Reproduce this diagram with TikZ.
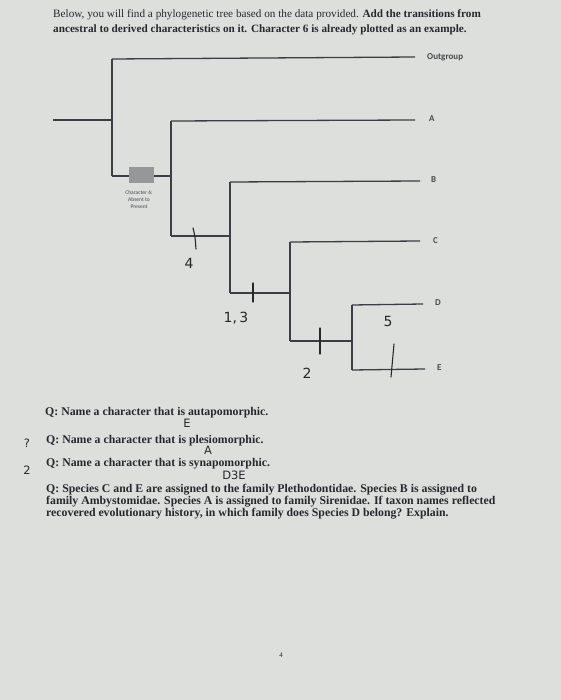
\documentclass[tikz,border=0pt]{standalone}
\usepackage{fontspec}
\setmainfont{Liberation Serif}
\newfontfamily\labelfont{Carlito}
\newfontfamily\handfont{DejaVu Sans}
\definecolor{bgcol}{RGB}{221,223,221}
\definecolor{treecol}{RGB}{58,62,70}
\definecolor{inkcol}{RGB}{38,40,46}
\definecolor{boxcol}{RGB}{150,151,153}
\definecolor{lblcol}{RGB}{70,72,78}
\begin{document}
\begin{tikzpicture}[x=1pt,y=-1pt,
  branch/.style={draw=treecol,line width=1.3pt},
  pen/.style={draw=inkcol,line width=1.1pt,line cap=round},
  taxon/.style={font=\labelfont\bfseries\fontsize{9}{10}\selectfont,text=lblcol,anchor=west,inner sep=0pt},
  hand/.style={font=\handfont\fontsize{14}{14}\selectfont,text=inkcol,inner sep=0pt},
  answer/.style={font=\handfont\fontsize{11.5}{11.5}\selectfont,text=inkcol,inner sep=0pt},
  body/.style={font=\fontsize{11.2}{12}\selectfont,text=inkcol,anchor=base west,inner sep=0pt},
  qtext/.style={font=\bfseries\fontsize{11.8}{12}\selectfont,text=inkcol,anchor=base west,inner sep=0pt}]
\useasboundingbox (0,0) rectangle (561,700);
\fill[bgcol] (0,0) rectangle (561,700);

% header
\node[body] (h1) at (53,18) {Below, you will find a phylogenetic tree based on the data provided. \textbf{Add the transitions from}};
\node[body] (h2) at (53,33) {\textbf{ancestral to derived characteristics on it. Character 6 is already plotted as an example.}};

% tree coordinates
\coordinate (r0) at (53,120);
\coordinate (r1) at (112,120);
\coordinate (n1t) at (112,59);
\coordinate (n1b) at (112,176);
\coordinate (ogE) at (415,57);
\coordinate (n2m) at (171,176);
\coordinate (n2t) at (171,121);
\coordinate (n2b) at (171,236);
\coordinate (aE) at (415,120);
\coordinate (n3m) at (230,236);
\coordinate (n3t) at (230,182);
\coordinate (n3b) at (230,293);
\coordinate (bE) at (420,181);
\coordinate (n4m) at (290,293);
\coordinate (n4t) at (290,242);
\coordinate (n4b) at (290,341);
\coordinate (cE) at (420,241);
\coordinate (n5m) at (352,341);
\coordinate (n5t) at (352,305);
\coordinate (n5b) at (352,370);
\coordinate (dE) at (423,304);
\coordinate (eE) at (425,369);

\draw[branch] (r0) -- (r1);
\draw[branch] (n1t) -- (n1b);
\draw[branch] (n1t) -- (ogE);
\draw[branch] (n1b) -- (n2m);
\draw[branch] (n2t) -- (n2b);
\draw[branch] (n2t) -- (aE);
\draw[branch] (n2b) -- (n3m);
\draw[branch] (n3t) -- (n3b);
\draw[branch] (n3t) -- (bE);
\draw[branch] (n3b) -- (n4m);
\draw[branch] (n4t) -- (n4b);
\draw[branch] (n4t) -- (cE);
\draw[branch] (n4b) -- (n5m);
\draw[branch] (n5t) -- (n5b);
\draw[branch] (n5t) -- (dE);
\draw[branch] (n5b) -- (eE);

% taxon labels
\node[taxon] (og) at (427,57) {Outgroup};
\node[taxon] (ta) at (429,119) {A};
\node[taxon] (tb) at (431,180) {B};
\node[taxon] (tc) at (433,241) {C};
\node[taxon] (td) at (435,303) {D};
\node[taxon] (te) at (437,368) {E};

% character 6 box
\node[fill=boxcol,minimum width=25pt,minimum height=16pt,inner sep=0pt] (c6) at (141.5,175) {};
\node[font=\labelfont\fontsize{5.5}{7}\selectfont,text=lblcol,align=center,inner sep=0pt,anchor=north] (c6t) at (139,190) {Character 6:\\Absent to\\Present};

% handwritten ticks
\coordinate (k4a) at (193,228); \coordinate (k4b) at (196,249);
\coordinate (k13a) at (253,283); \coordinate (k13b) at (253,302);
\coordinate (k2a) at (320,328); \coordinate (k2b) at (320,354);
\coordinate (k5a) at (394,344); \coordinate (k5b) at (391,377);
\draw[pen] (k4a) .. controls (195,236) .. (k4b);
\draw[pen] (k13a) -- (k13b);
\draw[pen] (k2a) -- (k2b);
\draw[pen] (k5a) -- (k5b);

% handwritten labels
\node[hand] (w4) at (189,263) {4};
\node[hand] (w13) at (236,318) {1,\,3};
\node[hand] (w2) at (307,373) {2};
\node[hand] (w5) at (388,321) {5};

% questions
\node[qtext] (q1) at (45,415) {Q: Name a character that is autapomorphic.};
\node[answer] (aq1) at (187,423) {E};
\node[qtext] (q2) at (46,443) {Q: Name a character that is plesiomorphic.};
\node[answer] (aq2) at (208,450) {A};
\node[answer] (m1) at (27,443) {?};
\node[qtext] (q3) at (46,466) {Q: Name a character that is synapomorphic.};
\node[answer] (aq3) at (234,475.5) {D3E};
\node[answer] (m2) at (27,470) {2};
\node[qtext] (q4a) at (46,492) {Q: Species C and E are assigned to the family Plethodontidae. Species B is assigned to};
\node[qtext] (q4b) at (46,504) {family Ambystomidae. Species A is assigned to family Sirenidae. If taxon names reflected};
\node[qtext] (q4c) at (46,516) {recovered evolutionary history, in which family does Species D belong? Explain.};

% page number
\node[font=\fontsize{7}{8}\selectfont,text=inkcol,inner sep=0pt] (pg) at (281,655) {4};
\end{tikzpicture}
\end{document}
